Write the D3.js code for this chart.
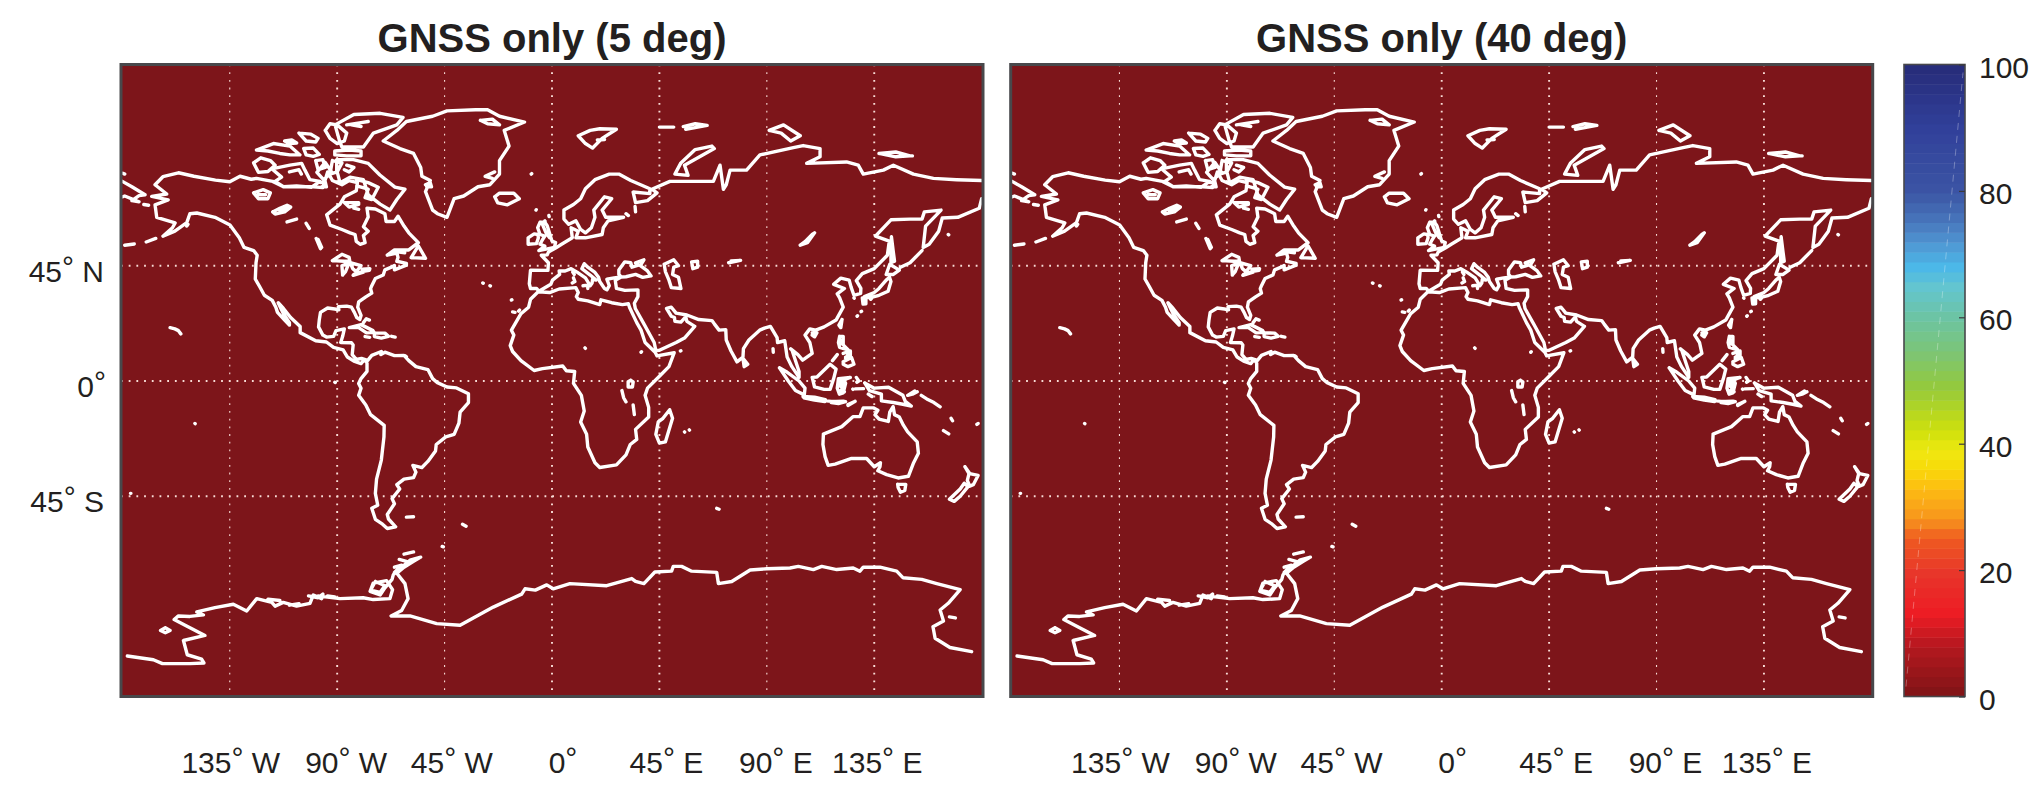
<!DOCTYPE html>
<html><head><meta charset="utf-8">
<script src="https://cdn.jsdelivr.net/npm/d3@7"></script>
<style>html,body{margin:0;background:#fff}svg{display:block}text{font-family:"Liberation Sans",Arial,sans-serif;fill:#231f20}</style>
</head><body><svg id="c" width="2032" height="788"></svg>
<script>
// ---------- labels and ticks ----------
const titles=["GNSS only (5 deg)","GNSS only (40 deg)"];
const lonTicks=[-135,-90,-45,0,45,90,135];
const lonLabels=["135","90","45","0","45","90","135"];
const lonHemi=["W","W","W","","E","E","E"];
const latTicks=[45,0,-45];
const latLabels=["45","0","45"];
const latHemi=["N","","S"];
const barTicks=[0,20,40,60,80,100];
// ---------- colour bar stops ----------
const barStopValues=[0,8,13,19.4,25,28,32.5,36,39,42,49,54.5,60,64.8,68,71.6,75,80,90,100];
const barStopColors=["#7f1416","#b5181f","#ed1c24","#e8352a","#ef5a21","#f7941d","#fdb913","#f9d90a","#eee910","#cfe00c","#94c93d","#7cc576","#6cc4a4","#63c5d0","#4cb8e8","#4f97d3","#4878bd","#3b54a4","#31409a","#262b78"];
// ---------- coastlines, [lon, lat] ----------
const americas=[[-166.3,68.5],[-163,70.4],[-156.5,71.3],[-150,70.5],[-141,69.6],[-135,69.2],[-130.7,70.5],[-126,69.8],[-123.8,70],[-117,69.3],[-112.5,68],[-107,68],[-100,68],[-96,67.8],[-94,71.5],[-92,69.5],[-88,68.5],[-85,69.5],[-81.5,69],[-82,67],[-87,65.5],[-88.8,63.6],[-94.4,60.7],[-93,57.8],[-88,56.5],[-84.6,55.5],[-82.5,55],[-82,52.9],[-80.4,52],[-78.3,52.5],[-79,54.7],[-77,56],[-79,57.3],[-77,60.1],[-77.5,62.5],[-74,62.3],[-70,61],[-69.5,58.8],[-66,58.8],[-64.5,60.3],[-62,57.5],[-60,55.5],[-56,52.5],[-60,50.2],[-66,50.2],[-69,48.5],[-65,49.2],[-64.5,47.8],[-65,46.5],[-61,45.8],[-61,45.2],[-66,43.6],[-66,45.1],[-67,44.6],[-70,43.6],[-70.7,41.8],[-74,40.6],[-75.5,38],[-76,36.9],[-75.5,35.3],[-78,33.9],[-81,32],[-81.4,30],[-80,26.8],[-80.5,25.2],[-81.8,26],[-82.8,28],[-84,30],[-86,30.4],[-89.5,30.2],[-89.3,29],[-91,29.3],[-94,29.7],[-97,28],[-97.5,25],[-97.8,22.3],[-96,19],[-94.5,18.2],[-91.5,18.5],[-90.5,20.8],[-87,21.5],[-87.7,18.5],[-88.5,16],[-84,15.9],[-83.3,15],[-83.7,11],[-82,9],[-79.8,9.4],[-77.2,8.6],[-75.5,10.7],[-71.5,12.3],[-71.7,11],[-70,12],[-66,10.6],[-62,10.7],[-60,8.5],[-57,6],[-52,4.8],[-50,1],[-48,-0.7],[-44,-2.5],[-40,-2.9],[-35,-5.3],[-35,-9],[-38.5,-13],[-39,-17.5],[-41,-22],[-44.5,-23],[-48.5,-26],[-48.8,-28.5],[-52,-32.5],[-54.5,-34.8],[-58.3,-34],[-57,-36.5],[-58,-38.5],[-62,-39],[-65,-41],[-63.8,-42.5],[-67,-45.8],[-66,-47.5],[-69,-51],[-68.5,-52.4],[-65.5,-54.8],[-69,-55.3],[-71,-54],[-74,-52.5],[-75.5,-49],[-73,-48],[-74,-44],[-73.5,-39],[-71.5,-32],[-70.4,-23],[-70.3,-18.4],[-76,-14],[-78,-10],[-81,-6],[-80,-3],[-81,-1],[-80,1],[-77.5,4],[-77.5,7.5],[-78.5,9],[-80,7.3],[-83,8.3],[-85.7,10],[-87.5,13],[-91.5,14],[-94.5,16.2],[-99,16.7],[-105.5,20],[-105.5,22.5],[-109.5,26],[-112.5,29.5],[-114.7,31.7],[-112.5,27.5],[-110,24],[-110,23],[-112,25],[-115,28],[-115.7,30],[-117.2,32.6],[-120.5,34.5],[-122.5,37.7],[-124.3,40.4],[-124,46],[-123.5,48.5],[-125,50],[-129,51],[-131,54],[-134.9,57.8],[-141.2,60],[-148.8,61.2],[-151.7,61],[-153,58.5],[-158,56],[-163,54.5],[-159,57],[-157.9,58.4],[-165.6,60],[-166.3,63.4],[-160.8,64.7],[-167.7,65.6],[-161.4,66.2],[-166.3,68.5]];
const greenland=[[-70.7,78],[-65,80],[-61,81.6],[-50,82.5],[-44,83.4],[-32,83.6],[-27,83.6],[-22,82.5],[-11.5,81.5],[-20,80],[-18,77],[-22,74],[-22,71],[-26,68.5],[-31,68],[-37,65.7],[-41,65],[-44,60],[-48,61],[-50,62],[-53,66.8],[-51,69.5],[-54.5,70.5],[-55,72.5],[-58,75.5],[-63.7,76.5],[-70.7,78]];
const greenlandFjords=[[[-30,81.8],[-25,82],[-22,81],[-27,81.2],[-30,81.8]],[[-53,68.5],[-51,69],[-50.5,68],[-52.5,68]],[[-25,70],[-28,70.5],[-24,71.5]]];
const ellesmere=[[-90.9,81],[-83,82.8],[-72,83],[-62.4,82.3],[-65,81],[-74.8,79.5],[-79,76.8],[-88,76.8],[-89,78],[-90.9,81]];
const arcticIslands=[
 [[-123.8,76.2],[-116.7,77.5],[-109.8,77],[-105.6,75.2],[-109.8,75.2],[-114,75.5],[-119,76],[-123.8,76.2]],
 [[-112,78],[-109,78.2],[-107,77.6],[-110,77.5],[-112,78]],
 [[-106,79.5],[-101,79.3],[-98,78.5],[-99,77.8],[-103,78],[-106,79.5]],
 [[-104,76.5],[-100,76.6],[-97.5,75.3],[-100,74.9],[-103,75.2],[-104,76.5]],
 [[-95,80],[-93,81.2],[-90,81],[-86,79.5],[-87,78],[-90,77.5],[-93,78.5],[-95,80]],
 [[-86,81],[-80,81.4],[-77,81.6]],[[-84,81],[-80,80.7]],
 [[-91,76],[-85,76.2],[-80,76],[-80,75],[-86,75],[-91,75.2],[-91,76]],
 [[-125,73.5],[-122,74.6],[-118,74],[-116,73],[-119,71.6],[-123,71.4],[-125,73.5]],
 [[-117.4,72.2],[-109.8,73],[-104.9,73.4],[-103.5,71.9],[-101.4,69.7],[-97.2,69.3],[-100.7,67.9],[-107,68.2],[-112.5,68],[-116,69.3],[-113.3,70.3],[-117.4,72.2]],
 [[-110,71.5],[-106,72],[-105,71]],
 [[-95,73.6],[-92.2,71.4],[-95.7,69.7],[-98.5,71.4],[-95,73.6]],
 [[-92,74],[-88,73.5],[-90,71.5],[-93,71],[-92,74]],
 [[-99,74],[-96,74.2],[-95,72.5],[-98,72],[-99,74]],
 [[-90.2,74.2],[-83.2,74.2],[-77,73.4],[-72.1,70.8],[-65.8,67.9],[-61.6,67.4],[-65,64.8],[-67.9,62],[-72,63.6],[-77,66],[-79,69.7],[-84.6,70.3],[-88.8,69],[-90.2,71.9],[-90.2,74.2]],
 [[-81.8,69.7],[-77,69],[-72.8,67.9],[-75.5,64.8],[-78.3,65.3],[-77,67.4],[-81.8,68.2]],
 [[-86,73],[-83,72.5],[-85,71.5],[-87,72]],
 [[-87,64],[-81,64],[-81,63.5],[-85,62.8],[-87,64]],[[-83,62.5],[-81,62.2]],[[-97,69],[-95,69.2],[-94.5,68],[-96.5,68]]];
const northAtlantic=[
 [[-24,65.5],[-22,66.4],[-16,66.4],[-13.7,65],[-18.7,63.4],[-22.7,63.9],[-24,65.5]],
 [[-5,58.6],[-3,58.6],[-2,57.6],[0,53],[1.5,52.5],[1,51],[-5.5,50],[-3,51.4],[-5,52],[-4,53.4],[-3,54.5],[-5,55],[-6,57],[-5,58.6]],
 [[-4,58],[-2.5,55.5],[-1,54]],
 [[-6,55],[-7.5,55.2],[-10,54],[-10,52],[-6.5,52.2],[-5.7,54],[-6,55]],
 [[-6.7,62],[-6.6,62.1]],[[-1.3,60.5],[-1.2,60.2]],[[-3,59],[-2.9,58.9]],[[-8.7,71],[-8.5,71.1]],
 [[-59,47.7],[-56,51.5],[-53,47.5],[-59,47.7]],
 [[-29,39],[-28.8,38.9]],[[-26,38],[-25.8,37.9]]];
const eurasia=[[-5.5,36],[-0.5,38.5],[0.2,40],[3.2,42],[3,43.2],[5.5,43.2],[8,44],[10.5,42.8],[14,40.8],[16,38],[16.8,39],[17,40.3],[18.5,40],[16,41.8],[12.5,44],[13.5,45.7],[15,44.5],[18,42.7],[19.5,41],[20,39.5],[22,37],[23,36.5],[24,38],[23,40.3],[26,40.8],[29,41.1],[28,42],[28,43.5],[30.5,46.3],[33,46],[33.5,44.5],[36.5,45.3],[35,46],[38.5,47],[37,45],[40,43.2],[41.5,41.5],[38,41],[35,42],[31,41.2],[29,41.1],[26.5,40],[27,37],[30.5,36.3],[36,36.5],[36,34],[34.5,31.5],[34.9,29.5],[38.5,23.5],[42.8,16],[43.5,12.7],[45,12.8],[52,16],[55.5,17.8],[59.8,22.5],[56.5,24.5],[56,26.3],[54,24.2],[51.5,24.5],[51.3,26],[50,26.5],[48,29.5],[50,30],[52,27.7],[56.5,27],[61.5,25.2],[67,24.8],[68,23.5],[70,21],[72.8,21.2],[73,17],[75,12.5],[77.5,8],[80,10],[80.2,13.5],[82.5,17],[87,21],[89,21.8],[91.5,22.5],[94.3,18],[94.5,16],[97.5,16.7],[98.5,10],[100.5,6],[103.5,1.5],[103.5,4],[100.5,13],[100,13.4],[103,11],[105,8.7],[109,11.5],[108,16],[106,19],[108,21.5],[110.5,21],[114,22.3],[119,25],[122,30],[120.5,33.5],[119.5,35],[122.5,37],[118,38.5],[121,40.7],[124.5,40],[125.3,37.5],[126.5,34.5],[129.3,35.2],[129.4,37],[127.5,39.8],[130,42.3],[135,44],[140.5,48.5],[141.3,53],[135.5,54.5],[142,59.3],[150,59.5],[155,59.5],[156,61.5],[163,62],[156.5,57.5],[155.5,51],[158,52],[162,56],[163.5,59.8],[170,60],[179,62.5],[180,65]];
const siberiaEurope=[[180,69.5],[169.5,69.7],[159.8,70],[151.4,71],[143,73],[138.8,71.9],[130.4,71],[128.3,73],[123.4,73.7],[106.7,73.4],[112.3,74.8],[112.3,76.5],[105.2,77.1],[101.1,76.7],[87.1,75.2],[81.5,71.9],[74.6,71.9],[73,68.5],[71.8,67.4],[70.4,73],[67.6,69.3],[60.6,69.3],[49.4,69.3],[41.8,67.4],[44,66.5],[40,64.5],[35,64],[34,66.7],[41,66.3],[41,67.5],[33,69.5],[28,71],[24,71],[18,69.7],[14,67.5],[12,65],[9,63.5],[5,62],[5,59.5],[7,58],[10,59],[12,56.5],[14,55.5],[16.5,57],[18,60],[17.5,62],[22,65.5],[25,65],[21,62],[22.5,60],[30,60],[23.5,59],[21.5,57],[21,55],[14,54],[10,54],[11,56],[8,57],[8.5,54],[4,52],[1.5,50.8],[-1.5,49.5],[-2,48.6],[-4.5,48.5],[-1.5,46],[-1.7,43.4],[-9,43.5],[-9.5,38.7],[-9,37],[-6.5,37],[-5.5,36]];
const chukotkaWest=[[-180,69.3],[-176,68],[-170.5,66],[-173,65.8],[-176,64.5],[-173,64.2],[-179,65.7],[-180,65.5]];
const africa=[[-5.5,35.8],[-1,35.5],[3,36.8],[10,37.3],[11,35.5],[10.2,34],[11,33],[15,32.4],[20,31],[20.5,32.8],[25,31.7],[29.5,31],[32,31.3],[32.5,29.9],[35.5,24],[37.3,21],[39,16],[43.2,12],[44,10.5],[51.2,11.8],[49,6],[45,2],[40,-3],[39,-6],[40.5,-11],[40.5,-15],[35,-20],[35.5,-24],[32.8,-26],[31,-30],[27,-33.8],[20,-34.8],[18,-33],[15,-27],[14.5,-22],[12,-17],[13.5,-12.5],[12.3,-6],[9,-1],[9.5,4],[6,4.3],[4.5,6.3],[-4,5.2],[-7.5,4.4],[-13,8.5],[-16.5,12.3],[-17.5,14.7],[-16,19],[-17,21],[-13,27.5],[-9.8,30],[-9,33],[-5.8,35.8]];
const africaIslands=[
 [[49.3,-12],[50.5,-15.5],[47.5,-25],[45,-25.5],[43.5,-22],[44.5,-17],[46.5,-15.5],[49.3,-12]],
 [[55.5,-21],[55.6,-21.1]],[[57.5,-20.2],[57.6,-20.3]],[[-16.5,28.2],[-15.5,28]],[[-14,28.5],[-13.6,28.9]],
 [[53.8,12.5],[54,12.6]],[[-17,32.7],[-16.8,32.8]],[[9,40.8],[9.6,39.5],[8.5,39]],[[8.7,42.8],[9.3,42]],[[13,38],[15,38.2],[15,37]]];
const inlandWaters=[
 [[47,45.5],[51,47],[53,45],[51,44.5],[50.5,42],[53,41],[54,37],[50,37.3],[49,40],[47.5,43],[47,45.5]],
 [[58.5,46.3],[61,46.5],[61,44.5],[59,44],[58.5,46.3]],
 [[74,46],[79,46.8],[75,46.6]],
 [[104,51.7],[107,52.5],[110,55.5],[109,55],[106,52.8],[104,51.7]],
 [[34.8,63],[35,61.5]],[[31,61],[32,60.5]],
 [[-125,66.5],[-121,67.3],[-118,66.5],[-119,65],[-123,65],[-125,66.5]],[[-123,66],[-120,66]],
 [[-117,61.5],[-114,62.5],[-111,63.3],[-109.5,62.8],[-112,61.5],[-116,60.9],[-117,61.5]],[[-114,61.8],[-111,62.5]],
 [[-111,58.7],[-107,59.5]],[[-103,58.3],[-101.7,56.8]],[[-98.8,53.8],[-97,50.6]],[[-98,53.5],[-96.5,51]],
 [[-92,46.7],[-88,48.8],[-85,47.8],[-84.7,46.5],[-87,46.5],[-92,46.7]],
 [[-87.7,41.8],[-88,45],[-85,46],[-86.5,43],[-87.7,41.8]],
 [[-84.5,46],[-80,45],[-82,43],[-83.5,44],[-84.5,46]],
 [[-83.3,41.7],[-79,42.8],[-79.5,43.8],[-76.3,44],[-76.5,43.4],[-79,43.1],[-83,42],[-83.3,41.7]],
 [[33,0.3],[34,-0.4],[33.7,-2.5],[31.9,-2.5],[31.9,-0.3],[33,0.3]],
 [[29.3,-4],[30,-7],[31,-8.7]],[[34,-10],[34.5,-14]],[[13.8,13.8],[14,13.6]],[[37.3,12],[37.5,12.2]],
 [[-64,49.5],[-61.7,49.3]]];
const caribbean=[
 [[-84.9,22],[-80,23.2],[-75,20.8],[-74.5,20.1],[-77.7,19.9],[-81,22],[-84.9,22]],
 [[-74.4,19.9],[-70,19.8],[-68.5,18.5],[-71.5,17.8],[-74.4,18.4],[-74.4,19.9]],
 [[-78.3,18.4],[-76.4,18.1]],[[-67.2,18.5],[-65.7,18.2]],[[-61.5,10.5],[-61,10.1]],[[-79,24],[-77.8,25.5],[-76.5,25]],[[-91,-0.5],[-90.8,-0.6]]];
const pacificIslands=[
 [[-160,22],[-158,21.5],[-156.5,20.8],[-155.5,19.5]],
 [[-149.6,-17.6],[-149.5,-17.7]],[[-176.6,-44],[-176.4,-44]],
 [[178,-18],[178.5,-17.6]],[[166.2,-21.8],[164,-20.5]],[[167.2,-15.5],[167.8,-16.5]],
 [[153,-4.5],[151,-5.5],[149,-6],[152,-4.2]],[[154.7,-6],[157,-7.5],[160,-9],[162.6,-10.8]],
 [[-179,51.7],[-175,52.1]],[[-170,52.7],[-166,53.8]],[[-153,57.5],[-152.5,58]],[[-169,63.3],[-171,63.5]],[[-179.8,71.2],[-179,71]]];
const arcticEurasia=[
 [[51.5,71],[57,70.7],[55.5,73],[68,76.5],[67,77],[60,76.3],[54,73.5],[51.5,71]],
 [[11,79],[16,80],[20,80.3],[27,80.2],[21,78.5],[17,76.6],[14,77.5],[11,79]],
 [[22,78.3],[19,78.2]],
 [[45,80.6],[51,80.6]],[[55,80.7],[60,81.2],[65,80.9],[56,80.2]],
 [[91,80],[97,81],[104,79],[100,78],[96,79.5],[91,80]],
 [[137,75.5],[144,75.8],[150,75],[144,74.8],[137,75.5]],[[146,75.2],[151,75]]];
const eastAsiaIslands=[
 [[130.9,34],[135,35.5],[137,37],[140,40],[141.4,41],[142,39.5],[140.8,36],[137,34.5],[133,33.5],[130.9,34]],
 [[130,33.5],[131.5,33.7],[131.5,31.3],[130.3,31.2],[130,33.5]],[[132.5,34],[134.5,34],[133.5,33]],
 [[140,42],[141.5,45.5],[145.5,43.5],[143,42],[140,42]],
 [[142.2,54.3],[143,49.5],[143.5,46.5],[142,46],[142,50],[142.2,54.3]],
 [[146,44.5],[150,46],[155,50]],[[121.5,25.2],[121,22],[120.2,23],[121.5,25.2]],[[109,20],[111,20],[110,18.3],[109,19]],
 [[126.5,33.5],[126.6,33.4]],[[127.8,26.5],[128,26.7]],[[129.5,28.3],[129.7,28.4]],[[166,55],[166.2,54.9]]];
const seAsia=[
 [[80,9.5],[82,7],[80.5,6],[80,9.5]],[[92.6,13.5],[92.7,12]],
 [[95.3,5.5],[98,4],[103.5,0],[106,-3],[105.7,-5.8],[102,-4],[99,0],[95.3,5.5]],
 [[105.2,-6.5],[110,-6.8],[114.5,-7.8],[114.3,-8.6],[110,-8],[105.5,-7],[105.2,-6.5]],
 [[115,-8.3],[117,-8.5],[119,-8.5],[122,-8.4],[123,-8.6],[120,-9.4],[117,-9]],[[124,-9.8],[127,-8.5],[124,-10.2]],
 [[109,1.5],[111,1.7],[116.5,7],[119,5],[118,1],[116.5,-3.5],[114,-3.5],[110,-2.5],[109,1.5]],
 [[120,1],[125,1.5],[121,0],[123,-1],[122,-5],[120.4,-5.5],[119.5,-3],[120,1]],[[120.5,-2],[122,-3],[121,-4],[122.5,-4.5],[120.5,-1]],[[122.5,-0.5],[121,0.5],[122,-2]],
 [[120.5,18.5],[122,18.5],[122,15],[124,13],[120.5,14],[120,16],[120.5,18.5]],[[121,17],[121.5,15.5]],
 [[122,8],[125.5,9.8],[126.5,7],[124,6],[122,7],[122,8]],[[122,11.5],[125,12.5],[125,10.5],[123,10]],[[123,9.5],[124,11]],[[117.5,8.5],[119.5,11]],
 [[127.5,1.5],[128.5,0],[127.7,-0.5]],[[127,-3.3],[130.5,-3.2]],[[126,-3.4],[126.1,-3.5]],[[132.5,-5.5],[134,-6.5]],
 [[131,-0.8],[135,-3],[141,-2.6],[147,-6],[148,-8.5],[150.5,-10.5],[147,-9.7],[143,-9],[138,-8.3],[138,-5.5],[133,-4],[131,-0.8]]];
const australia=[[113.7,-21.9],[113.5,-26],[114.4,-30.7],[115.7,-34],[118.6,-33.5],[125.5,-31.4],[131.8,-31.4],[135,-34.5],[137.6,-33],[137.4,-34.5],[136.5,-36],[140.2,-37.4],[145,-38.6],[149.3,-38],[151.5,-33],[153.5,-29.4],[153,-25],[149,-21],[147.2,-18.3],[145.5,-15],[143.5,-14],[142.9,-10.7],[141.5,-13],[140.9,-16.8],[137,-15.8],[135.3,-14.1],[136.5,-12.2],[134.6,-11.2],[130.4,-11.2],[129,-14.8],[126.2,-14.8],[121.4,-18.9],[113.7,-21.9]];
const southernIslands=[
 [[144.8,-40.8],[148.2,-40.9],[147.8,-43],[146,-43.6],[145,-42],[144.8,-40.8]],
 [[173,-34.5],[175,-37],[178.5,-37.7],[176.5,-41],[175,-41.5],[174,-39.5],[174.7,-37],[173,-34.5]],
 [[172.7,-40.5],[174.3,-41.7],[171,-45],[168.5,-46.7],[166.5,-46],[171,-42.5],[172.7,-40.5]],
 [[-61,-51.8],[-58,-51.7]],[[-37.5,-54],[-36,-54.6]],[[-46,-60.5],[-45.5,-60.6]],[[69,-49],[70,-49.3]]];
const antarctica=[[-177.9,-84.2],[-167,-84.8],[-163.2,-85.4],[-151.7,-85.4],[-145.8,-85.3],[-146.8,-84.7],[-152.8,-84],[-154.4,-81.6],[-145.4,-80.7],[-153.7,-78.8],[-158.3,-77.7],[-156.5,-77],[-151.7,-77.1],[-146,-76.8],[-148.8,-76.2],[-141.2,-75.3],[-133.5,-74.6],[-127.9,-76],[-123.7,-73.4],[-117.4,-74.2],[-116,-75],[-112.6,-74.2],[-107,-75],[-101.4,-74.4],[-100,-72.6],[-96.5,-73.4],[-98,-72.8],[-95,-73],[-88.8,-73.4],[-79.1,-73.2],[-74.9,-73.6],[-67.9,-73.4],[-66.8,-71.4],[-69.3,-69.3],[-74.9,-69.9],[-76.2,-71.8],[-72,-72.6],[-70,-71],[-67,-69],[-66.5,-67.9],[-63,-66],[-59.5,-64.2],[-55,-63.4],[-58,-64.5],[-62,-66],[-65,-67.5],[-61.6,-70],[-60.3,-73.4],[-63,-75.9],[-67.4,-77],[-59.5,-77],[-48.3,-78.5],[-38.5,-78.8],[-24.6,-75.2],[-12.7,-72.4],[-11.3,-71.2],[-7,-71.5],[-2.2,-70.3],[0.5,-71.2],[7.5,-70],[22.9,-70.5],[33.4,-68.8],[35,-69.5],[38.5,-70],[43.1,-67.2],[50.1,-67],[50.8,-65.8],[54.3,-65.8],[58.5,-67],[69,-67.3],[69.7,-70],[75.3,-69.5],[83,-66.7],[90,-66.4],[99.7,-66.2],[103.2,-65.8],[109.5,-66.6],[113,-65.8],[119.3,-66.6],[126.2,-66.2],[129,-67],[130.4,-66],[137.4,-66],[144.4,-67],[147,-68.6],[154.9,-69],[161.2,-70],[171,-71.4],[166,-74.4],[162.6,-75.8],[164,-78],[159.6,-79.1],[160.5,-81.2],[166.7,-82.8],[175.8,-83.5]];
const antarcticIslands=[[[-162,-79.3],[-160,-79.8],[-162,-80.2],[-164,-79.8],[-162,-79.3]],[[166.5,-77.2],[169,-77.4]],
 [[-74,-69.5],[-70,-70.5],[-72,-72],[-76,-71.5],[-74,-69.5]],[[-62,-62.6],[-58,-62]],[[-64,-64],[-61,-64.5]],[[-66,-66],[-63,-65.5],[-66,-67.3]],
 [[-102,-72.8],[-98,-73.2],[-96,-72.4]],[[-94,-72.8],[-91,-73]],[[-119,-73.5],[-114,-73.8]],[[-106,-74.5],[-110,-74.8]]];

const coast=[americas,greenland,ellesmere,...greenlandFjords,...arcticIslands,...northAtlantic,eurasia,siberiaEurope,chukotkaWest,africa,...africaIslands,...inlandWaters,...caribbean,...pacificIslands,...arcticEurasia,...eastAsiaIslands,...seAsia,australia,...southernIslands,antarctica,...antarcticIslands];

// ---------- layout ----------
const panelCentres=[552,1441.7];
const degPerPx=2.387, rad=180/Math.PI;
const frame={top:64.5,bottom:696.5,halfW:431};
const xLabelShift=[1,9,7.3,11,7,9,3];
const bar={x0:1904,x1:1965,y0:64.5,y1:696.5};

function millerRaw(l,p){return [l,1.25*Math.log(Math.tan(Math.PI/4+0.4*p))];}
const svg=d3.select("#c");
const defs=svg.append("defs");

panelCentres.forEach((cx,pi)=>{
  const proj=d3.geoProjection(millerRaw).scale(degPerPx*rad).translate([cx,381]).precision(0);
  const path=d3.geoPath(proj);
  const x=d3.scaleLinear().domain([-180,180]).range([cx-180*degPerPx,cx+180*degPerPx]);
  const yOf=lat=>proj([0,lat])[1];
  const g=svg.append("g");
  defs.append("clipPath").attr("id","clip"+pi).append("rect")
    .attr("x",cx-frame.halfW).attr("y",frame.top).attr("width",2*frame.halfW).attr("height",frame.bottom-frame.top);
  g.append("rect").attr("x",cx-frame.halfW).attr("y",frame.top).attr("width",2*frame.halfW).attr("height",frame.bottom-frame.top).attr("fill","#7d151a");
  const grid=g.append("g").attr("stroke","#f8dcd6").attr("fill","none").attr("stroke-dasharray","1.8 5.9");
  grid.selectAll("line.lon").data(lonTicks).join("line").attr("class","lon")
    .attr("x1",d=>x(d)).attr("x2",d=>x(d)).attr("y1",frame.top).attr("y2",frame.bottom)
    .attr("stroke-width",(d,i)=>[1.1,1.9,1.1,1.9,1.9,1.1,1.9][i]);
  grid.selectAll("line.lat").data(latTicks).join("line").attr("class","lat")
    .attr("x1",cx-frame.halfW).attr("x2",cx+frame.halfW).attr("y1",d=>yOf(d)).attr("y2",d=>yOf(d)).attr("stroke-width",1.9);
  g.append("path").attr("clip-path",`url(#clip${pi})`)
    .datum({type:"MultiLineString",coordinates:coast})
    .attr("d",path).attr("fill","none").attr("stroke","#fff").attr("stroke-width",3.4)
    .attr("stroke-linejoin","round").attr("stroke-linecap","round");
  g.append("rect").attr("x",cx-frame.halfW).attr("y",frame.top).attr("width",2*frame.halfW).attr("height",frame.bottom-frame.top)
    .attr("fill","none").attr("stroke","#48484b").attr("stroke-width",3);
  g.append("text").attr("x",cx).attr("y",52).attr("text-anchor","middle").attr("font-size",40).attr("font-weight","bold").text(titles[pi]);
  lonTicks.forEach((v,i)=>{
    const t=g.append("text").attr("x",x(v)+xLabelShift[i]).attr("y",773).attr("text-anchor","middle").attr("font-size",30);
    t.append("tspan").text(lonLabels[i]);
    t.append("tspan").attr("dy",-5).text("°");
    t.append("tspan").attr("dy",5).text(lonHemi[i]?" "+lonHemi[i]:"");
  });
  if(pi===0) latTicks.forEach((v,i)=>{
    const t=g.append("text").attr("x",i===1?106:104).attr("y",yOf(v)+(i===0?16:15.5)).attr("text-anchor","end").attr("font-size",30);
    t.append("tspan").text(latLabels[i]);
    t.append("tspan").attr("dy",-5).text("°");
    if(latHemi[i]) t.append("tspan").attr("dy",5).text(" "+latHemi[i]);
  });
});

// colour bar
const barY=d3.scaleLinear().domain([0,100]).range([bar.y1,bar.y0]);
const barColor=d3.scaleLinear().domain(barStopValues).range(barStopColors);
const bands=d3.range(64);
const barG=svg.append("g");
barG.selectAll("rect.band").data(bands).join("rect").attr("class","band")
  .attr("x",bar.x0).attr("width",bar.x1-bar.x0)
  .attr("y",d=>barY((d+1)/64*100)).attr("height",d=>barY(d/64*100)-barY((d+1)/64*100)+0.5)
  .attr("fill",d=>barColor((d+0.5)/64*100));
barG.append("line").attr("x1",bar.x0+2).attr("y1",bar.y1-10).attr("x2",bar.x1-2).attr("y2",bar.y0+8)
  .attr("stroke","#fff").attr("stroke-opacity",0.3).attr("stroke-width",1).attr("stroke-dasharray","7 6");
barG.append("rect").attr("x",bar.x0).attr("y",bar.y0).attr("width",bar.x1-bar.x0).attr("height",bar.y1-bar.y0)
  .attr("fill","none").attr("stroke","#48484b").attr("stroke-width",1.6);
const barAxis=d3.axisRight(barY).tickValues(barTicks).tickSize(-6).tickPadding(14);
const ax=barG.append("g").attr("transform",`translate(${bar.x1},0)`).call(barAxis);
ax.select(".domain").remove();
ax.selectAll("line").attr("stroke","#3a3a3c").attr("stroke-width",1.2);
ax.selectAll("text").attr("font-size",30).attr("font-family",'"Liberation Sans",Arial,sans-serif').attr("fill","#231f20").attr("dy","0.42em");
</script></body></html>
